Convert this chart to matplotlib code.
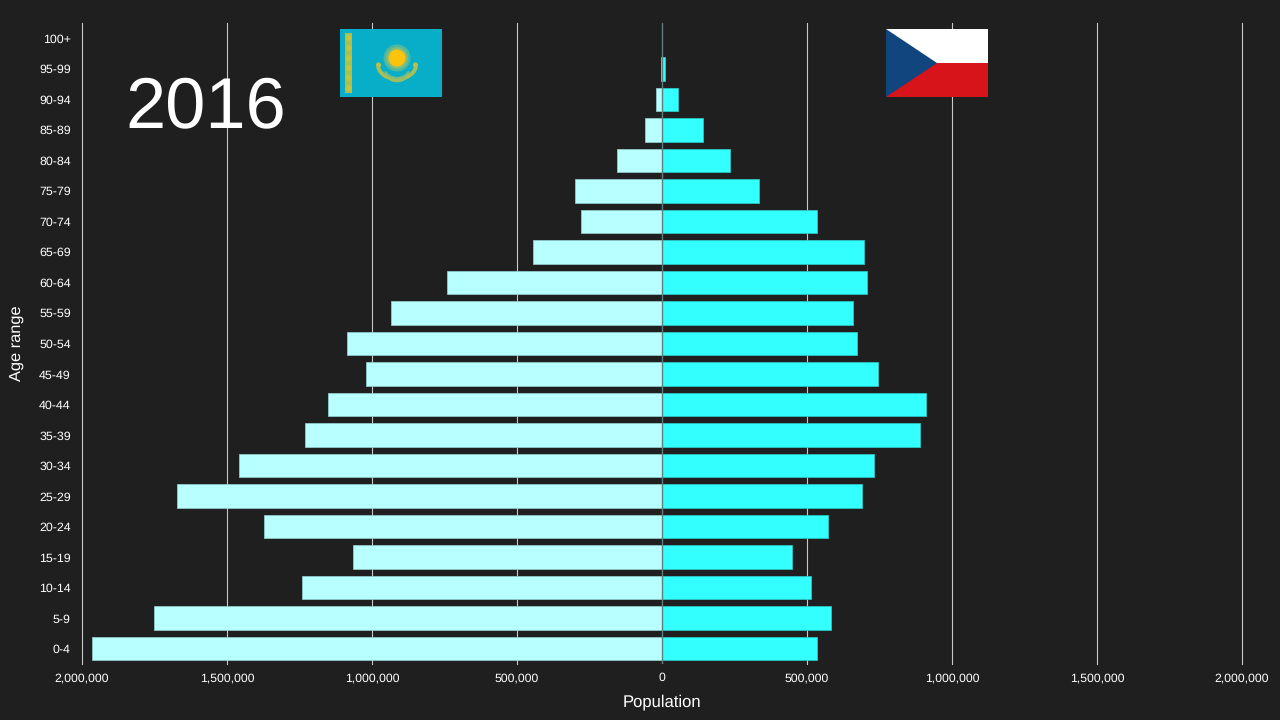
import matplotlib
matplotlib.use("Agg")
import matplotlib.pyplot as plt
from matplotlib.patches import Rectangle, Polygon, Circle, Arc

plt.rcParams['font.family'] = ['Liberation Sans', 'DejaVu Sans']
plt.rcParams['text.hinting'] = 'none'

# --- Data ---
YEAR = "2016"
age_groups = ["0-4", "5-9", "10-14", "15-19", "20-24", "25-29", "30-34", "35-39",
              "40-44", "45-49", "50-54", "55-59", "60-64", "65-69", "70-74",
              "75-79", "80-84", "85-89", "90-94", "95-99", "100+"]
kazakhstan = [1966000, 1752000, 1241000, 1066000, 1372000, 1672000, 1459000, 1231000,
              1152000, 1021000, 1086000, 934000, 741000, 445000, 279000,
              300000, 155000, 59000, 21000, 4000, 1000]
czechia = [534000, 583000, 514000, 448000, 572000, 690000, 731000, 890000,
           910000, 745000, 672000, 659000, 707000, 697000, 534000,
           334000, 234000, 141000, 55000, 10000, 1500]
x_ticks = [-2000000, -1500000, -1000000, -500000, 0, 500000, 1000000, 1500000, 2000000]

BG = '#1f1f1f'
W, H = 1280, 720


def px_axes(fig, left, top, right, bottom):
    # axes placed with pixel coordinates measured from the top left corner
    return fig.add_axes([left / W, 1 - bottom / H, (right - left) / W, (bottom - top) / H])


def draw_kz_flag(fig):
    ax = px_axes(fig, 340, 29, 442, 97)
    ax.set_xlim(0, 102)
    ax.set_ylim(68, 0)
    ax.axis('off')
    ax.add_patch(Rectangle((0, 0), 102, 68, fc='#08aec8', ec='none'))
    # ornament band at the hoist
    ax.add_patch(Rectangle((5, 4), 7, 60, fc='#a9bf52', ec='none'))
    for k in range(6):
        ax.add_patch(Circle((8.5, 9 + k * 10), 3.0, fc='#c6c33c', ec='none'))
    # sun and rays
    ax.add_patch(Circle((57, 29), 13.5, fc='#4fb8a0', ec='none'))
    ax.add_patch(Circle((57, 29), 10.8, fc='#84bd7c', ec='none'))
    ax.add_patch(Circle((57, 29), 8.5, fc='#fcc30c', ec='none'))
    # eagle wings
    ax.add_patch(Arc((57, 36), 38, 28, theta1=5, theta2=175, ec='#a8bf55', lw=2.8))
    ax.add_patch(Arc((57, 38), 26, 22, theta1=20, theta2=160, ec='#7dbb84', lw=1.6))
    ax.add_patch(Arc((57, 47), 18, 10, theta1=20, theta2=160, ec='#9dbd62', lw=1.8))
    ax.add_patch(Circle((38.5, 36), 2.6, fc='#b8c04a', ec='none'))
    ax.add_patch(Circle((75.5, 36), 2.6, fc='#b8c04a', ec='none'))


def draw_cz_flag(fig):
    ax = px_axes(fig, 886, 29, 988, 97)
    ax.set_xlim(0, 102)
    ax.set_ylim(68, 0)
    ax.axis('off')
    ax.add_patch(Rectangle((0, 0), 102, 34, fc='#ffffff', ec='none'))
    ax.add_patch(Rectangle((0, 34), 102, 34, fc='#d7141a', ec='none'))
    ax.add_patch(Polygon([(0, 0), (51, 34), (0, 68)], closed=True, fc='#11457e', ec='none'))


fig = plt.figure(figsize=(W / 100, H / 100), dpi=100, facecolor=BG)
ax = px_axes(fig, 82, 23, 1242, 664)
ax.set_facecolor(BG)

y = list(range(len(age_groups)))
left_vals = [-v for v in kazakhstan]

ax.barh(y, left_vals, height=0.77, color='#b8ffff', edgecolor='#8fc8c8', linewidth=0.6, zorder=2)
ax.barh(y, czechia, height=0.77, color='#33ffff', edgecolor='#2bc4c4', linewidth=0.6, zorder=2)

ax.set_xlim(-2000000, 2000000)
ax.set_ylim(-0.5, 20.5)

# grid sits behind the bars, the zero line stays on top
for t in x_ticks:
    if t == 0:
        ax.axvline(t, color='#5f7f7f', lw=1.0, zorder=3)
    else:
        ax.axvline(t, color='#c8c8c8', lw=0.8, zorder=1, clip_on=False)

for side in ['top', 'right', 'bottom', 'left']:
    ax.spines[side].set_visible(False)

ax.set_xticks(x_ticks)
ax.set_xticklabels([f"{abs(t):,}" for t in x_ticks], color='white', fontsize=8.8)
ax.set_yticks(y)
ax.set_yticklabels(age_groups, color='white', fontsize=8.9)
ax.tick_params(axis='both', length=0)
ax.tick_params(axis='x', pad=6)
ax.tick_params(axis='y', pad=8)

ax.set_xlabel("Population", color='white', fontsize=12, labelpad=8)
ax.set_ylabel("Age range", color='white', fontsize=11.8, labelpad=11)

fig.text(125 / W, 1 - 101 / H, YEAR, color='white', fontsize=52, ha='left', va='center_baseline')

draw_kz_flag(fig)
draw_cz_flag(fig)

fig.savefig("out.png", dpi=100, facecolor=BG)
plt.close(fig)
